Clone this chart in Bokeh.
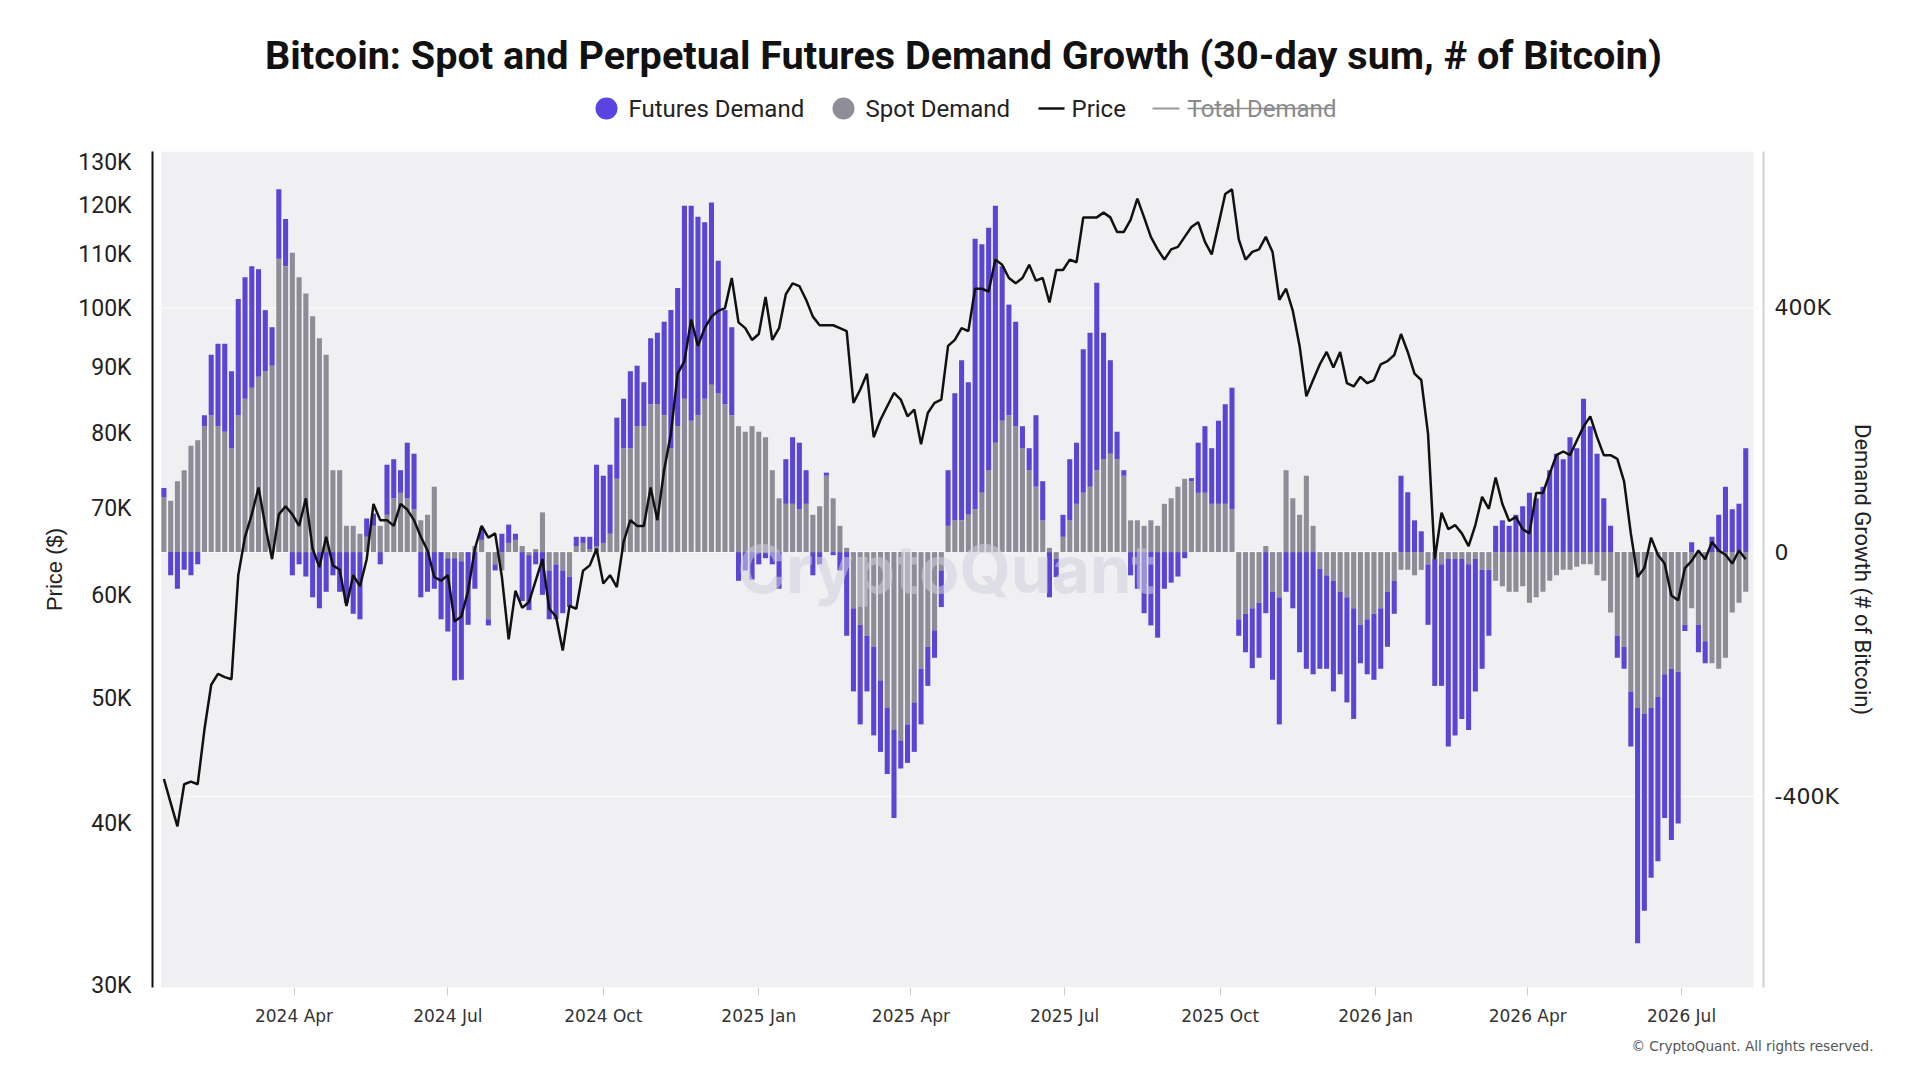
import numpy as np
import pandas as pd
from bokeh.plotting import figure
from bokeh.models import (Range1d, LinearAxis, LinearScale, FixedTicker, CustomJSTickFormatter,
                          BoxAnnotation, Span, ColumnDataSource, Title)
from bokeh.layouts import column
from bokeh.core.properties import value
from bokeh.embed import file_html
from bokeh.resources import INLINE

# one sample every 4 days, starting 2024-01-15
start_date = "2024-01-15"
step_days = 4

# BTC price, thousand $
price_k = [
    43.3, 41.5, 39.8, 42.9, 43.1, 42.9, 47.3, 51.2, 52.2, 51.9, 51.7, 62.2, 66.6, 69.3, 72.7, 67.9, 64.0, 69.3, 70.3, 69.3,
    67.9, 71.3, 65.2, 63.1, 66.6, 63.3, 62.8, 58.9, 62.2, 61.0, 64.0, 70.6, 68.6, 68.6, 67.9, 70.6, 69.9, 68.6, 66.6,
    65.0, 62.0, 61.6, 62.2, 57.3, 57.8, 60.5, 65.2, 67.9, 66.5, 67.0, 62.0, 55.5, 60.5, 58.7, 59.3, 61.6, 64.0, 58.6, 57.8,
    54.4, 58.9, 58.6, 62.7, 63.3, 65.2, 61.3, 62.2, 60.9, 66.0, 68.6, 67.9, 67.9, 72.7, 68.6, 75.0, 80.0, 89.0, 91.0,
    98.0, 93.5, 96.5, 98.5, 99.5, 100.0, 105.5, 97.5, 96.5, 94.5, 95.5, 102.0, 94.5, 96.5, 102.5, 104.5, 104.0, 101.5, 98.5, 97.0,
    97.0, 97.0, 96.5, 96.0, 84.5, 86.5, 89.0, 79.5, 82.0, 84.0, 86.0, 85.0, 82.5, 83.5, 78.5, 83.0, 84.5, 85.0, 93.5,
    94.5, 96.5, 96.0, 103.5, 103.5, 103.0, 109.0, 108.0, 105.5, 104.5, 105.5, 108.0, 105.0, 105.5, 101.0, 107.0, 107.0, 109.0, 108.5, 117.5,
    117.5, 117.5, 118.5, 117.5, 114.5, 114.5, 117.0, 121.5, 117.5, 113.5, 111.0, 109.0, 111.0, 111.5, 113.5, 115.5, 116.5, 112.5, 110.0,
    116.0, 122.5, 123.5, 113.0, 109.0, 110.5, 111.0, 113.5, 110.5, 101.5, 103.5, 99.5, 93.5, 85.5, 88.0, 90.5, 92.5, 90.0, 92.5, 87.5,
    87.0, 88.5, 87.5, 88.0, 90.5, 91.0, 92.0, 95.5, 92.5, 89.0, 88.0, 80.0, 64.0, 69.5, 67.5, 68.0, 67.0, 65.5, 68.0,
    71.5, 70.0, 74.0, 70.6, 68.5, 69.0, 67.5, 67.0, 72.0, 72.0, 74.5, 77.0, 77.5, 77.0, 79.0, 81.0, 82.5, 79.5, 77.0, 77.0,
    76.5, 73.5, 67.0, 62.0, 63.0, 66.5, 64.5, 63.5, 60.0, 59.5, 63.0, 63.8, 65.0, 64.0, 66.0, 65.0, 64.5, 63.5, 65.0, 64.0,
]

# spot demand growth, thousand BTC
spot_k = [
    90, 84, 116, 134, 174, 183, 206, 224, 206, 197, 170, 224, 251, 269, 287, 296, 305, 480, 468, 490,
    450, 423, 386, 350, 323, 134, 134, 43, 43, 30, 25, 43, 43, 61, 88, 97, 88, 70, 52,
    61, 107, 0, -10, -10, -15, 0, 10, 20, -110, -20, -30, 15, 20, 10, -5, 5, 65, -30, -20,
    -30, -40, 10, 15, 5, 10, 15, 30, 120, 170, 170, 206, 206, 242, 242, 224, 170, 206, 251,
    215, 224, 251, 274, 260, 242, 224, 206, 197, 206, 197, 188, 134, 88, 79, 79, 70, 79, 61, 75,
    125, 88, 43, 7, -92, -119, -137, -155, -210, -255, -291, -309, -282, -246, -191, -155, -128, -30, 43,
    52, 52, 61, 70, 97, 134, 179, 215, 224, 206, 170, 134, 107, 52, 7, -11, 25, 52, 79, 97,
    107, 134, 152, 161, 152, 125, 52, 52, 43, 52, 43, 79, 88, 107, 120, 116, 97, 97, 79,
    79, 79, 70, -110, -101, -92, -83, 10, -65, -74, 134, 88, 61, 125, 43, -27, -38, -47, -65, -74,
    -92, -119, -110, -101, -92, -65, -47, -29, -29, -38, -29, -20, -11, -20, -11, -11, -11, -20, -11,
    -29, -29, -47, -56, -65, -65, -56, -83, -74, -65, -47, -38, -29, -29, -24, -20, -20, -38, -47, -99,
    -137, -155, -228, -255, -264, -255, -237, -200, -191, -196, -119, -92, -119, -146, -182, -191, -173, -99, -83, -65,
]

# perpetual futures demand growth, thousand BTC
futures_k = [
    15, -38, -60, -29, -38, -20, 18, 99, 135, 144, 126, 190, 199, 199, 176, 100, 63, 114, 77, -38,
    -20, -40, -74, -92, -65, -38, -65, -83, -101, -110, 30, 20, -20, 82, 64, 37, 91, 91, -74,
    -65, -60, -110, -120, -200, -194, -119, -60, 20, -10, -10, 30, 30, 10, -80, -90, -20, -70, -80, -90,
    -70, -50, 15, 10, 20, 133, 110, 113, 100, 81, 126, 99, 72, 108, 117, 153, 226, 226, 316,
    352, 325, 289, 298, 217, 154, 144, -47, -30, -45, -20, -10, -20, -60, 73, 109, 109, 55, -38, -20,
    5, -5, -30, -137, -136, -163, -91, -145, -117, -108, -144, -45, -63, -81, -91, -64, -45, -60, 91,
    208, 262, 217, 443, 407, 397, 388, 253, 181, 171, 36, 36, 117, 64, -74, -30, 36, 100, 100, 235,
    252, 307, 207, 153, 45, 9, -38, -60, -100, -120, -140, -60, -50, -40, -10, 5, 82, 109, 91,
    136, 163, 199, -27, -63, -98, -90, -100, -144, -208, -65, -92, -164, -191, -200, -164, -153, -181, -135, -172,
    -181, -63, -90, -108, -99, -90, -54, 125, 98, 52, 34, -99, -208, -199, -307, -289, -262, -271, -217,
    -162, -108, 43, 52, 43, 61, 75, 97, 88, 107, 134, 161, 152, 188, 170, 251, 206, 161, 88, 43,
    -36, -36, -90, -385, -323, -278, -269, -235, -280, -248, -10, 16, -45, -36, 25, 61, 107, 70, 79, 170,
]

tick_dates = ["2024-04-01", "2024-07-01", "2024-10-01", "2025-01-01", "2025-04-01",
              "2025-07-01", "2025-10-01", "2026-01-01", "2026-04-01", "2026-07-01"]
tick_labels = ["2024 Apr", "2024 Jul", "2024 Oct", "2025 Jan", "2025 Apr",
               "2025 Jul", "2025 Oct", "2026 Jan", "2026 Apr", "2026 Jul"]
price_ticks = [30000, 40000, 50000, 60000, 70000, 80000, 90000, 100000, 110000, 120000, 130000]
demand_ticks = [-400000, 0, 400000]

PURPLE = "#5a46d2"
GRAY = "#8e8c96"
DAY = 86400000
W = 1903
FRAME_L, FRAME_R = 152, 1763   # plot frame edges, page px


def ms(d):
    return pd.Timestamp(d).value // 10**6


dates = pd.date_range(start_date, periods=len(price_k), freq=f"{step_days}D")
x = dates.values.astype("datetime64[ms]").astype("int64")
S = np.array(spot_k, dtype=float) * 1000
F = np.array(futures_k, dtype=float) * 1000
same = S * F > 0
src = ColumnDataSource(dict(
    x=x,
    price=np.array(price_k) * 1000,
    gb=np.minimum(S, 0), gt=np.maximum(S, 0),
    pb=np.where(same, S, 0), pt=np.where(same, S + F, F),
))

t0 = ms(start_date)

# ---- header: title + legend (frame is aligned with the chart frame below) ----
h = figure(width=W, height=148, x_range=Range1d(FRAME_L, FRAME_R), y_range=Range1d(0, 148),
           output_backend="svg", toolbar_location=None, min_border=0,
           min_border_left=FRAME_L, min_border_right=W - FRAME_R,
           x_axis_location=None, y_axis_location=None, outline_line_color=None)
h.grid.visible = False
h.text(x=[963], y=[93], text=["Bitcoin: Spot and Perpetual Futures Demand Growth (30-day sum, # of Bitcoin)"],
       text_font=value("Roboto"), text_font_style="bold", text_font_size="39.6px",
       text_align="center", text_baseline="middle", text_color="#111111")
leg_font = dict(text_font=value("Roboto"), text_font_size="24px", text_baseline="middle")
h.scatter(x=[606], y=[40], size=22, fill_color="#5944e2", line_color=None)
h.text(x=[628], y=[40], text=["Futures Demand"], text_color="#222222", **leg_font)
h.scatter(x=[843], y=[40], size=22, fill_color="#8f8d9a", line_color=None)
h.text(x=[865], y=[40], text=["Spot Demand"], text_color="#222222", **leg_font)
h.line(x=[1038, 1064], y=[40, 40], line_color="#111111", line_width=2.5)
h.text(x=[1071], y=[40], text=["Price"], text_color="#222222", **leg_font)
h.line(x=[1152, 1179], y=[40, 40], line_color="#999999", line_width=2)
h.text(x=[1187], y=[40], text=["Total Demand"], text_color="#8a8a8a", **leg_font)
h.line(x=[1187, 1333], y=[40, 40], line_color="#8a8a8a", line_width=1.5)

# ---- main chart ----
p = figure(width=W, height=927, output_backend="svg", toolbar_location=None,
           y_axis_type="log",
           x_range=Range1d(t0 - 6.75 * DAY, t0 + 946.5 * DAY),
           y_range=Range1d(29890, 132100),
           min_border_left=FRAME_L, min_border_right=W - FRAME_R, min_border_top=3, min_border_bottom=88,
           background_fill_color="white", border_fill_color="white", outline_line_color=None)
p.extra_y_ranges = {"demand": Range1d(-712600, 655600)}
p.extra_y_scales = {"demand": LinearScale()}
p.xgrid.visible = False
p.ygrid.visible = False

p.add_layout(BoxAnnotation(left=t0 - 1.5 * DAY, right=t0 + 940.6 * DAY, fill_color="#f0f0f2",
                           fill_alpha=1, line_color=None, level="underlay"))
for v in demand_ticks:
    p.add_layout(Span(location=v, dimension="width", y_range_name="demand",
                      line_color="#fafafa", line_width=1.5, level="underlay"))

bw = 3.0 * DAY
p.vbar(x="x", width=bw, bottom="gb", top="gt", source=src, y_range_name="demand",
       fill_color=GRAY, line_color=None)
p.vbar(x="x", width=bw, bottom="pb", top="pt", source=src, y_range_name="demand",
       fill_color=PURPLE, line_color=None)

# watermark
p.text(x=[t0 + 463 * DAY], y=[-27000], y_range_name="demand", text=["CryptoQuant"],
       text_font=value("Inter"), text_font_style="bold", text_font_size="66px",
       text_align="center", text_baseline="middle", text_color="#d0d0dc", text_alpha=0.55)

p.line(x="x", y="price", source=src, line_color="#111111", line_width=2.5)

# left (price) axis
ya = p.yaxis[0]
ya.ticker = FixedTicker(ticks=price_ticks)
ya.formatter = CustomJSTickFormatter(code="return (tick/1000).toFixed(0) + 'K';")
ya.axis_line_color = "#111111"
ya.axis_line_width = 2
ya.major_tick_line_color = None
ya.minor_tick_line_color = None
ya.major_label_text_font = "Roboto"
ya.major_label_text_font_size = "23px"
ya.major_label_text_color = "#222222"
ya.major_label_standoff = 15
ya.axis_label = "Price ($)"
ya.axis_label_text_font = "Liberation Sans"
ya.axis_label_text_font_size = "22px"
ya.axis_label_text_font_style = "normal"
ya.axis_label_text_color = "#222222"
ya.axis_label_standoff = 8

# right (demand) axis
ra = LinearAxis(y_range_name="demand", ticker=FixedTicker(ticks=demand_ticks),
                formatter=CustomJSTickFormatter(code="return tick == 0 ? '0' : (tick/1000).toFixed(0) + 'K';"))
ra.axis_line_color = "#d2d2d2"
ra.axis_line_width = 2
ra.major_tick_line_color = None
ra.minor_tick_line_color = None
ra.major_label_text_font = "DejaVu Sans"
ra.major_label_text_font_size = "22px"
ra.major_label_text_color = "#222222"
ra.major_label_standoff = 5
ra.axis_label = "Demand Growth (# of Bitcoin)"
ra.axis_label_text_font = "Roboto"
ra.axis_label_text_font_size = "22px"
ra.axis_label_text_font_style = "normal"
ra.axis_label_text_color = "#222222"
ra.axis_label_standoff = 8
p.add_layout(ra, "right")

# x axis
tick_ms = [int(ms(d)) for d in tick_dates]
xa = p.xaxis[0]
xa.ticker = FixedTicker(ticks=tick_ms)
xa.major_label_overrides = dict(zip(tick_ms, tick_labels))
xa.axis_line_color = None
xa.major_tick_line_color = "#cccccc"
xa.major_tick_out = 8
xa.major_tick_in = 0
xa.minor_tick_line_color = None
xa.major_label_text_font = "DejaVu Sans"
xa.major_label_text_font_size = "17px"
xa.major_label_text_color = "#333333"
xa.major_label_standoff = 10

# copyright line under the x axis
p.add_layout(Title(text="\u00a9 CryptoQuant. All rights reserved.", align="right", offset=-110,
                   text_font="DejaVu Sans", text_font_size="13.6px", text_font_style="normal",
                   text_color="#555555", standoff=15), "below")

layout = column(h, p, spacing=0)
open("out.html", "w").write(file_html(layout, INLINE, "Bitcoin demand growth"))
